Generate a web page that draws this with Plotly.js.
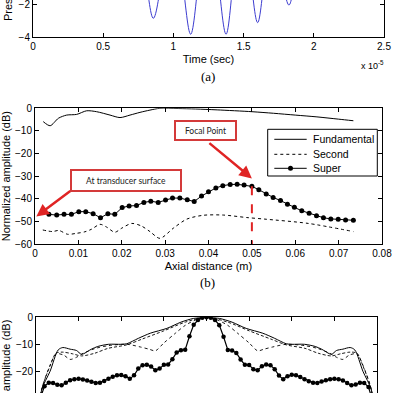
<!DOCTYPE html>
<html>
<head>
<meta charset="utf-8">
<script src="https://cdn.plot.ly/plotly-3.0.1.min.js"></script>
<style>
html,body{margin:0;padding:0;width:393px;height:393px;overflow:hidden;background:#fff;}
#wrap{position:absolute;left:0;top:-100px;width:393px;height:600px;}
</style>
</head>
<body>
<div id="wrap"></div>
<script>
// ---------- Panel (a): pressure pulse (time in units of 1e-5 s) ----------
const pulseT = [0, 0.3, 0.45, 0.52, 0.59, 0.66, 0.73, 0.795, 0.857, 0.925, 0.99, 1.057, 1.123, 1.186, 1.25, 1.313, 1.375, 1.433, 1.49, 1.545, 1.600, 1.655, 1.71, 1.767, 1.823, 1.878, 1.93, 1.985, 2.04, 2.09, 2.14, 2.2, 2.35, 2.5];
const pulseP = [0, 0, 0.3, 0, -1.3, 0, 2.4, 0, -2.84, 0, 3.5, 0, -3.83, 0, 4.0, 0, -3.83, 0, 3.5, 0, -3.11, 0, 2.6, 0, -2.02, 0, 1.4, 0, -1.1, 0, 0.5, 0, 0, 0];
const timeTicks = [0, 0.5, 1, 1.5, 2, 2.5];
const timeTickText = ['0', '0.5', '1', '1.5', '2', '2.5'];

// ---------- Panel (b): axial profiles ----------
const fundBX = [0.0019, 0.0035, 0.0054, 0.0073, 0.0096, 0.0119, 0.0142, 0.0173, 0.0196, 0.0219, 0.0242, 0.0265, 0.0288, 0.033, 0.037, 0.042, 0.05, 0.055, 0.06, 0.065, 0.07, 0.0734];
const fundBY = [-5.9, -7.7, -4.4, -3.0, -2.7, -1.1, -1.5, -3.0, -4.1, -3.0, -1.8, -0.8, 0.0, -0.1, -0.3, -0.7, -1.5, -2.2, -3.0, -3.8, -4.8, -5.5];
const secBX = [0.0018, 0.004, 0.0055, 0.0075, 0.0095, 0.0115, 0.013, 0.015, 0.0165, 0.0184, 0.020, 0.0223, 0.0245, 0.0265, 0.0288, 0.0319, 0.035, 0.0388, 0.0434, 0.0488, 0.053, 0.063, 0.0734];
const secBY = [-53.8, -54.5, -54.0, -55.7, -55.3, -54.6, -53.5, -51.3, -52.5, -54.8, -53.0, -50.9, -52.0, -54.5, -57.5, -53.0, -49.0, -47.3, -47.2, -48.3, -49.0, -50.9, -54.5];
const supBX = [0.0032, 0.0050, 0.0067, 0.0084, 0.0101, 0.0117, 0.0134, 0.0151, 0.0168, 0.0184, 0.0201, 0.0217, 0.0234, 0.0251, 0.0267, 0.0284, 0.0301, 0.0317, 0.0334, 0.0351, 0.0367, 0.0384, 0.0400, 0.0417, 0.0433, 0.0450, 0.0466, 0.0482, 0.0500, 0.0516, 0.0533, 0.0549, 0.0566, 0.0582, 0.0598, 0.0615, 0.0632, 0.0649, 0.0665, 0.0682, 0.0699, 0.0716, 0.0734];
const supBY = [-46.9, -47.2, -46.9, -46.9, -45.7, -45.7, -46.6, -48.4, -46.6, -46.9, -43.9, -43.2, -43.0, -41.6, -41.1, -41.6, -40.6, -39.7, -39.7, -40.4, -41.2, -38.8, -36.9, -35.2, -34.2, -33.7, -33.6, -33.9, -34.5, -36.0, -37.9, -39.4, -40.8, -42.4, -43.8, -45.3, -46.4, -47.5, -48.4, -48.9, -49.1, -49.4, -49.5];
const focalLineX = [0.05, 0.05];
const focalLineY = [-34.5, -60];
const seriesNames = ['Fundamental', 'Second', 'Super'];

// ---------- Panel (c): lateral profiles ----------
const fundCX = [-3.95, -3.87, -3.67, -3.48, -3.37, -3.2, -3.05, -2.93, -2.7, -2.55, -2.3, -2.0, -1.87, -1.6, -1.32, -0.93, -0.6, -0.3, 0, 0.3, 0.6, 0.93, 1.32, 1.6, 1.87, 2.0, 2.3, 2.55, 2.7, 2.93, 3.05, 3.2, 3.37, 3.48, 3.67, 3.87, 3.95];
const fundCY = [-40, -27, -20, -12.1, -11.2, -11.8, -12.3, -13.7, -11.8, -10.8, -10.0, -10.0, -9.8, -7.8, -5.9, -4.1, -1.8, -0.4, 0, -0.4, -1.8, -4.1, -5.9, -7.8, -9.8, -10.0, -10.0, -10.8, -11.8, -13.7, -12.3, -11.8, -11.2, -12.1, -20, -27, -40];
const dashCX = [-3.95, -3.87, -3.67, -3.53, -3.37, -3.15, -2.93, -2.62, -2.31, -1.87, -1.5, -1.0, -0.5, 0, 0.5, 1.0, 1.5, 1.87, 2.31, 2.62, 2.93, 3.15, 3.37, 3.53, 3.67, 3.87, 3.95];
const dashCY = [-40, -27, -18, -13.3, -12.9, -13.5, -14.3, -13.3, -11.5, -10.2, -8.0, -5.0, -1.8, 0, -1.8, -5.0, -8.0, -10.2, -11.5, -13.3, -14.3, -13.5, -12.9, -13.3, -18, -27, -40];
const dotCX = [-3.95, -3.87, -3.65, -3.53, -3.35, -3.2, -3.05, -2.89, -2.6, -2.3, -1.87, -1.55, -1.35, -1.2, -1.0, -0.73, -0.5, -0.26, 0, 0.26, 0.5, 0.73, 1.0, 1.2, 1.35, 1.55, 1.87, 2.3, 2.6, 2.89, 3.05, 3.2, 3.35, 3.53, 3.65, 3.87, 3.95];
const dotCY = [-40, -27, -17, -13.5, -14.0, -15.6, -14.8, -13.3, -11.5, -10.5, -10.0, -11.0, -11.8, -12.4, -9.5, -5.9, -3.0, -1.0, 0, -1.0, -3.0, -5.9, -9.5, -12.4, -11.8, -11.0, -10.0, -10.5, -11.5, -13.3, -14.8, -15.6, -14.0, -13.5, -17, -27, -40];
const supCX = [-3.9, -3.8, -3.7, -3.6, -3.5, -3.4, -3.3, -3.2, -3.1, -3.0, -2.9, -2.8, -2.7, -2.6, -2.5, -2.4, -2.3, -2.2, -2.1, -2.0, -1.9, -1.8, -1.7, -1.6, -1.5, -1.4, -1.3, -1.2, -1.1, -1.0, -0.9, -0.8, -0.7, -0.6, -0.5, -0.4, -0.3, -0.2, -0.1, 0, 0.1, 0.2, 0.3, 0.4, 0.5, 0.6, 0.7, 0.8, 0.9, 1.0, 1.1, 1.2, 1.3, 1.4, 1.5, 1.6, 1.7, 1.8, 1.9, 2.0, 2.1, 2.2, 2.3, 2.4, 2.5, 2.6, 2.7, 2.8, 2.9, 3.0, 3.1, 3.2, 3.3, 3.4, 3.5, 3.6, 3.7, 3.8, 3.9];
const supCY = [-30, -25.5, -24.2, -24.3, -25.0, -25.2, -24.2, -23.3, -22.9, -22.8, -23.0, -23.4, -23.9, -24.3, -24.2, -23.6, -22.8, -22.0, -21.5, -21.4, -21.8, -22.8, -21.5, -19.0, -17.8, -17.6, -18.2, -19.6, -19.0, -17.6, -17.5, -15.5, -13.0, -12.2, -12.0, -7.0, -2.8, -1.0, -0.2, 0,
  -0.2, -1.0, -2.9, -7.2, -12.1, -12.3, -13.2, -15.6, -17.6, -17.7, -19.2, -19.6, -18.1, -17.5, -17.8, -19.2, -21.6, -22.9, -21.8, -21.3, -21.5, -22.1, -22.9, -23.7, -24.2, -24.3, -23.8, -23.3, -22.9, -22.8, -22.9, -23.4, -24.3, -25.2, -24.9, -24.2, -24.3, -25.8, -31];

// ---------- layout helpers (pixel geometry of the page) ----------
const W = 393, H = 600, TOP = 100;
function xd(l, r) { return [l / W, r / W]; }
function yd(t, b) { return [1 - (b + TOP) / H, 1 - (t + TOP) / H]; }
function px(x) { return x / W; }
function py(y) { return 1 - (y + TOP) / H; }

const FONT = 'Liberation Sans, Arial, sans-serif';
const SERIF = 'Liberation Serif, Times New Roman, serif';
const base = {
  showline: true, linecolor: '#000', linewidth: 1, mirror: 'ticks',
  ticks: 'inside', ticklen: 4, tickwidth: 1, tickcolor: '#000',
  showgrid: false, zeroline: false,
  tickfont: {family: FONT, size: 10, color: '#000'},
  title: {font: {family: FONT, size: 11, color: '#000'}}
};
function ax(o) { const r = JSON.parse(JSON.stringify(base)); return Object.assign(r, o, {title: Object.assign({}, base.title, o.title || {})}); }

const RED = '#e02424';

const traces = [
  {x: pulseT, y: pulseP, xaxis: 'x', yaxis: 'y', mode: 'lines', line: {color: '#3c3cd0', width: 1, shape: 'spline', smoothing: 1}, showlegend: false, hoverinfo: 'skip'},

  {x: fundBX, y: fundBY, xaxis: 'x2', yaxis: 'y2', mode: 'lines', name: seriesNames[0], line: {color: '#000', width: 1, shape: 'spline', smoothing: 0.8}, showlegend: false},
  {x: secBX, y: secBY, xaxis: 'x2', yaxis: 'y2', mode: 'lines', name: seriesNames[1], line: {color: '#000', width: 1, dash: 'dot', shape: 'spline', smoothing: 0.8}, showlegend: false},
  {x: supBX, y: supBY, xaxis: 'x2', yaxis: 'y2', mode: 'lines+markers', name: seriesNames[2], line: {color: '#000', width: 1}, marker: {color: '#000', size: 5}, showlegend: false},
  {x: focalLineX, y: focalLineY, xaxis: 'x2', yaxis: 'y2', mode: 'lines', line: {color: RED, width: 2, dash: 'dash'}, showlegend: false, hoverinfo: 'skip'},

  {x: fundCX, y: fundCY, xaxis: 'x3', yaxis: 'y3', mode: 'lines', line: {color: '#000', width: 1, shape: 'spline', smoothing: 0.8}, showlegend: false},
  {x: dashCX, y: dashCY, xaxis: 'x3', yaxis: 'y3', mode: 'lines', line: {color: '#000', width: 0.9, dash: '3px,2px', shape: 'spline', smoothing: 0.8}, showlegend: false},
  {x: dotCX, y: dotCY, xaxis: 'x3', yaxis: 'y3', mode: 'lines', line: {color: '#000', width: 0.9, dash: 'dot', shape: 'spline', smoothing: 0.8}, showlegend: false},
  {x: supCX, y: supCY, xaxis: 'x3', yaxis: 'y3', mode: 'lines+markers', line: {color: '#000', width: 1.2}, marker: {color: '#000', size: 4.5}, showlegend: false}
];

// legend box drawn to match the original's compact MATLAB legend
const legTop = 129.3, legBottom = 176, legLeft = 267.7, legRight = 377.3;
const legRows = [139.3, 154.3, 168.3];
const legLineL = 274.3, legLineR = 306.7, legTextX = 311;

const shapes = [
  {type: 'rect', xref: 'paper', yref: 'paper', x0: px(legLeft), x1: px(legRight), y0: py(legBottom), y1: py(legTop), line: {color: '#000', width: 1}, fillcolor: '#fff', layer: 'above'},
  {type: 'line', xref: 'paper', yref: 'paper', x0: px(legLineL), x1: px(legLineR), y0: py(legRows[0]), y1: py(legRows[0]), line: {color: '#000', width: 1}},
  {type: 'line', xref: 'paper', yref: 'paper', x0: px(legLineL), x1: px(legLineR), y0: py(legRows[1]), y1: py(legRows[1]), line: {color: '#000', width: 1, dash: 'dot'}},
  {type: 'line', xref: 'paper', yref: 'paper', x0: px(legLineL), x1: px(legLineR), y0: py(legRows[2]), y1: py(legRows[2]), line: {color: '#000', width: 1}},
  {type: 'circle', xref: 'paper', yref: 'paper', x0: px((legLineL + legLineR) / 2 - 2.5), x1: px((legLineL + legLineR) / 2 + 2.5), y0: py(legRows[2] + 2.5), y1: py(legRows[2] - 2.5), line: {color: '#000', width: 0}, fillcolor: '#000'}
];

const annotations = [
  {xref: 'paper', yref: 'paper', x: px(208), y: py(77), xanchor: 'center', yanchor: 'middle', text: '(a)', showarrow: false, font: {family: SERIF, size: 13}},
  {xref: 'paper', yref: 'paper', x: px(208), y: py(282), xanchor: 'center', yanchor: 'middle', text: '(b)', showarrow: false, font: {family: SERIF, size: 13}},
  {xref: 'paper', yref: 'paper', x: px(372), y: py(65), xanchor: 'center', yanchor: 'middle', text: 'x 10<sup>-5</sup>', showarrow: false, font: {family: FONT, size: 9}},
  {xref: 'paper', yref: 'paper', x: px(8.5), y: py(23), xanchor: 'center', yanchor: 'bottom', textangle: -90, text: 'Pressure (MPa)', showarrow: false, font: {family: FONT, size: 11}},
  // arrows
  {xref: 'x2', yref: 'y2', x: 0.0500, y: -31.0, ax: -44, ay: -36.5, text: '', showarrow: true, arrowhead: 2, arrowsize: 1, arrowwidth: 2.5, arrowcolor: RED},
  {xref: 'x2', yref: 'y2', x: 0.0003, y: -47.8, ax: 35.5, ay: -26.5, text: '', showarrow: true, arrowhead: 2, arrowsize: 1, arrowwidth: 2.5, arrowcolor: RED},
  // boxes
  {xref: 'x2', yref: 'y2', x: 0.0392, y: -10.0, xanchor: 'center', yanchor: 'middle', text: 'Focal Point', showarrow: false, font: {family: 'Lato, sans-serif', size: 8.5, color: '#222'}, bgcolor: '#fff', bordercolor: '#d43a3a', borderwidth: 2, borderpad: 1, width: 57, height: 15},
  {xref: 'x2', yref: 'y2', x: 0.0210, y: -31.8, xanchor: 'center', yanchor: 'middle', text: 'At transducer surface', showarrow: false, font: {family: 'Lato, sans-serif', size: 8.5, color: '#222'}, bgcolor: '#fff', bordercolor: '#d43a3a', borderwidth: 2, borderpad: 1, width: 106, height: 17}
];
// legend labels
seriesNames.forEach(function (n, i) {
  annotations.push({xref: 'paper', yref: 'paper', x: px(legTextX), y: py(legRows[i]), xanchor: 'left', yanchor: 'middle', text: n, showarrow: false, font: {family: FONT, size: 10.5, color: '#000'}});
});

const layout = {
  width: W, height: H,
  margin: {l: 0, r: 0, t: 0, b: 0},
  paper_bgcolor: '#fff', plot_bgcolor: '#fff',
  font: {family: FONT, size: 10, color: '#000'},
  showlegend: false,
  xaxis: ax({domain: xd(33, 384), anchor: 'y', range: [0, 2.5], tickvals: timeTicks, ticktext: timeTickText, title: {text: 'Time (sec)', standoff: 4}}),
  yaxis: ax({domain: yd(-92.2, 37), anchor: 'x', range: [-4, 4], dtick: 2}),
  xaxis2: ax({domain: xd(35, 382), anchor: 'y2', range: [0, 0.08], dtick: 0.01, title: {text: 'Axial distance (m)', standoff: 4}}),
  yaxis2: ax({domain: yd(108.3, 244), anchor: 'x2', range: [-60, 0], dtick: 10, title: {text: 'Normalized amplitude (dB)', standoff: 4}}),
  xaxis3: ax({domain: xd(36, 377), anchor: 'y3', range: [-4, 4], dtick: 1}),
  yaxis3: ax({domain: yd(317.3, 452.3), anchor: 'x3', range: [-50, 0], dtick: 10, title: {text: 'Normalized amplitude (dB)', standoff: 4}}),
  shapes: shapes,
  annotations: annotations
};

Plotly.newPlot('wrap', traces, layout, {staticPlot: true, displayModeBar: false});
</script>
</body>
</html>
